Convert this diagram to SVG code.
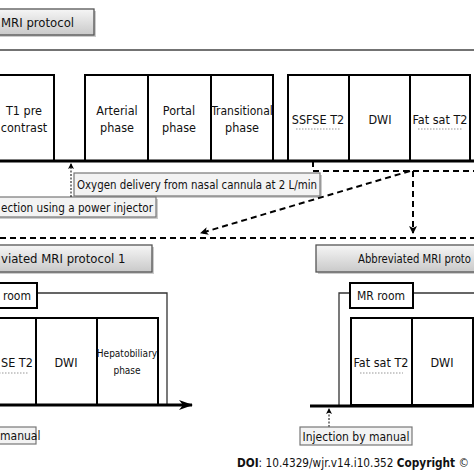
<svg xmlns="http://www.w3.org/2000/svg" width="474" height="474" viewBox="0 0 474 474">
<defs>
<linearGradient id="btn" x1="0" y1="0" x2="0" y2="1">
<stop offset="0" stop-color="#f6f6f6"/>
<stop offset="1" stop-color="#c9c9c9"/>
</linearGradient>
<marker id="ah" markerWidth="8" markerHeight="8" refX="7" refY="4" orient="auto" markerUnits="userSpaceOnUse">
<path d="M0,0 L8,4 L0,8 L2,4 Z" fill="#000"/>
</marker>
<marker id="ahs" markerWidth="6" markerHeight="6" refX="5" refY="3" orient="auto" markerUnits="userSpaceOnUse">
<path d="M0,0 L6,3 L0,6 L1.5,3 Z" fill="#000"/>
</marker>
<marker id="ahb" markerWidth="14" markerHeight="10" refX="13" refY="5" orient="auto" markerUnits="userSpaceOnUse">
<path d="M0,0 L14,5 L0,10 L4,5 Z" fill="#000"/>
</marker>
</defs>
<style>
text{font-family:"DejaVu Sans Condensed","DejaVu Sans",sans-serif;font-size:12px;fill:#111}
.c{text-anchor:middle}
.box{fill:#fff;stroke:#000;stroke-width:2}
.btn{fill:url(#btn);stroke:#555;stroke-width:1.3}
.sh{fill:#999;opacity:0.5}
.lbl{fill:#f3f3f3;stroke:#777;stroke-width:1.2}
.base{stroke:#000;stroke-width:3;fill:none}
.dash{stroke:#000;stroke-width:2;stroke-dasharray:6 4;fill:none}
.dot{stroke:#000;stroke-width:1;stroke-dasharray:2 1.5;fill:none}
.frame{stroke:#333;stroke-width:1.3;fill:none}
.ul{stroke:#bbb;stroke-width:1.5;stroke-dasharray:1.5 1.5}
.big{font-size:12.5px}
</style>

<g id="title-full">
<rect class="sh" x="-4" y="11" width="100" height="26"/>
<rect class="btn" x="-6" y="9" width="100" height="26"/>
<text x="1" y="27" style="font-size:13px">MRI protocol</text>
</g>
<line x1="0" y1="50" x2="474" y2="50" stroke="#444" stroke-width="1.5"/>

<g id="t1pre"><rect class="box" x="-6" y="75" width="60" height="86"/><text class="c big" x="24" y="115">T1 pre</text><text class="c big" x="24" y="132">contrast</text></g>
<g id="gap1"><line x1="85" y1="75" x2="85" y2="161" stroke="#000" stroke-width="2"/></g>
<g id="arterial"><rect class="box" x="85" y="75" width="63" height="86"/><text class="c big" x="117" y="115">Arterial</text><text class="c big" x="117" y="132">phase</text></g>
<g id="portal"><rect class="box" x="148" y="75" width="63" height="86"/><text class="c big" x="179" y="115">Portal</text><text class="c big" x="179" y="132">phase</text></g>
<g id="transitional"><rect class="box" x="211" y="75" width="62" height="86"/><text class="c" x="242" y="115">Transitional</text><text class="c big" x="242" y="132">phase</text></g>
<g id="ssfse1"><rect class="box" x="288" y="75" width="61" height="86"/><line class="ul" x1="296" y1="129" x2="340" y2="129"/><text class="c big" x="318" y="124">SSFSE T2</text></g>
<g id="dwi1"><rect class="box" x="349" y="75" width="61" height="86"/><text class="c big" x="380" y="124">DWI</text></g>
<g id="fatsat1"><rect class="box" x="410" y="75" width="60" height="86"/><line class="ul" x1="418" y1="129" x2="462" y2="129"/><text class="c big" x="440" y="124">Fat sat T2</text></g>
<line class="base" x1="0" y1="161" x2="474" y2="161"/>

<g id="oxygen">
<rect class="sh" x="76" y="175" width="246" height="23"/>
<rect class="lbl" x="74" y="173" width="246" height="23"/>
<text x="77" y="189" textLength="240" lengthAdjust="spacingAndGlyphs">Oxygen delivery from nasal cannula at 2 L/min</text>
</g>
<g id="injector">
<rect class="sh" x="-4" y="199" width="162" height="20"/>
<rect class="lbl" x="-6" y="197" width="162" height="20"/>
<text x="1" y="212" textLength="152" lengthAdjust="spacingAndGlyphs">ection using a power injector</text>
</g>

<g id="connectors">
<line class="dot" x1="71" y1="197" x2="71" y2="164" marker-end="url(#ahs)"/>
<line class="dash" x1="313" y1="161" x2="313" y2="171" stroke-dasharray="2 1.5"/>
<line class="dash" x1="313" y1="171" x2="474" y2="171"/>
<line class="dash" x1="410" y1="171" x2="201" y2="233" marker-end="url(#ah)"/>
<line class="dash" x1="413" y1="171" x2="413" y2="233" marker-end="url(#ah)"/>
<line class="dash" x1="0" y1="238" x2="474" y2="238"/>
<line class="dot" x1="329" y1="427" x2="329" y2="409" marker-end="url(#ahs)"/>
</g>

<g id="title-abbr1">
<rect class="sh" x="-4" y="247" width="158" height="27"/>
<rect class="btn" x="-6" y="245" width="158" height="27"/>
<text x="1" y="263" style="font-size:13px">viated MRI protocol 1</text>
</g>
<g id="title-abbr2">
<rect class="sh" x="318" y="247" width="170" height="27"/>
<rect class="btn" x="316" y="245" width="170" height="27"/>
<text x="358" y="263" style="font-size:13px" textLength="113" lengthAdjust="spacingAndGlyphs">Abbreviated MRI proto</text>
</g>

<g id="room1">
<polyline class="frame" points="37,293 167,293 167,405"/>
<rect class="box" x="-6" y="283" width="43" height="25"/>
<text x="3" y="300">room</text>
</g>
<g id="ssfse2"><rect class="box" x="-6" y="318" width="42" height="87"/><line class="ul" x1="-4" y1="373" x2="28" y2="373"/><text x="1" y="367" class="big">SE T2</text></g>
<g id="dwi2"><rect class="box" x="36" y="318" width="61" height="87"/><text class="c big" x="66" y="367">DWI</text></g>
<g id="hepato"><rect class="box" x="97" y="318" width="61" height="87"/><text class="c" x="127" y="357" style="font-size:10px">Hepatobiliary</text><text class="c" x="127" y="374" style="font-size:10px">phase</text></g>
<line class="base" x1="0" y1="405" x2="192" y2="405" marker-end="url(#ahb)"/>
<g id="manual1">
<rect class="lbl" x="-6" y="427" width="42" height="17"/>
<text x="0" y="440">manual</text>
</g>

<g id="room2">
<polyline class="frame" points="350,293 339,293 339,405"/>
<line class="frame" x1="413" y1="293" x2="474" y2="293"/>
<rect class="box" x="350" y="283" width="63" height="25"/>
<text class="c" x="381" y="300">MR room</text>
</g>
<g id="fatsat2"><rect class="box" x="351" y="318" width="61" height="87"/><line class="ul" x1="360" y1="373" x2="403" y2="373"/><text class="c big" x="381" y="367">Fat sat T2</text></g>
<g id="dwi3"><rect class="box" x="412" y="318" width="61" height="87"/><text class="c big" x="442" y="367">DWI</text></g>
<line class="base" x1="310" y1="406" x2="474" y2="406"/>
<g id="manual2">
<rect class="lbl" x="300" y="427" width="112" height="18"/>
<text class="c" x="356" y="441">Injection by manual</text>
</g>

<text x="237" y="467" font-size="11.5" textLength="232" lengthAdjust="spacingAndGlyphs"><tspan font-weight="bold">DOI</tspan>: 10.4329/wjr.v14.i10.352 <tspan font-weight="bold">Copyright</tspan> ©</text>
</svg>
